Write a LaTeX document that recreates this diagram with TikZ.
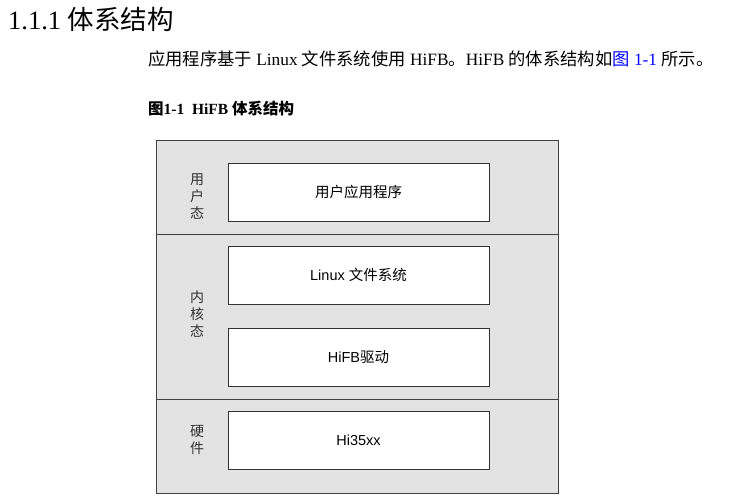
\documentclass[tikz,border=0pt]{standalone}
\usepackage{fontspec}
\setmainfont{Liberation Serif}
\newfontfamily\cjk{Noto Sans CJK SC}
\newfontfamily\lsans{Liberation Sans}
\begin{document}
\begin{tikzpicture}[x=1pt,y=-1pt,
  layer/.style={draw=black!75,fill=black!11,line width=0.8pt},
  inbox/.style={draw=black!80,fill=white,line width=0.8pt,minimum width=261pt,minimum height=58pt,inner sep=0pt,font=\lsans\fontsize{14.5}{16}\selectfont},
  side/.style={font=\cjk\fontsize{14}{17}\selectfont,align=center,text=black!80},
  txt/.style={anchor=base west,inner sep=0pt}]
\useasboundingbox (0,0) rectangle (733,502);
\fill[layer] (156,140) rectangle (558,493);
\draw[black!75,line width=0.8pt] (156,234) -- (558,234) (156,399) -- (558,399);
\node[inbox] (app) at (358.5,192) {\cjk 用户应用程序};
\node[inbox] (fs) at (358.5,275) {Linux {\cjk 文件系统}};
\node[inbox] (drv) at (358.5,357) {HiFB{\cjk 驱动}};
\node[inbox] (hw) at (358.5,440) {Hi35xx};
\node[side] (l1) at (197,197) {用\\户\\态};
\node[side] (l2) at (197,314) {内\\核\\态};
\node[side] (l3) at (197,440) {硬\\件};
\node[txt,font=\fontsize{26.5}{28}\selectfont] (t) at (8,30) {1.1.1 {\cjk 体系结构}};
\node[txt,font=\fontsize{17.3}{19}\selectfont] (p) at (148,66) {{\cjk 应用程序基于} Linux {\cjk 文件系统使用} HiFB{\cjk 。}HiFB {\cjk 的体系结构如}\textcolor{blue}{{\cjk 图} 1-1} {\cjk 所示。}};
\node[txt,font=\bfseries\fontsize{15.5}{17}\selectfont] (c) at (148,115) {{\cjk\bfseries 图}1-1\ \ HiFB {\cjk\bfseries 体系结构}};
\end{tikzpicture}
\end{document}
